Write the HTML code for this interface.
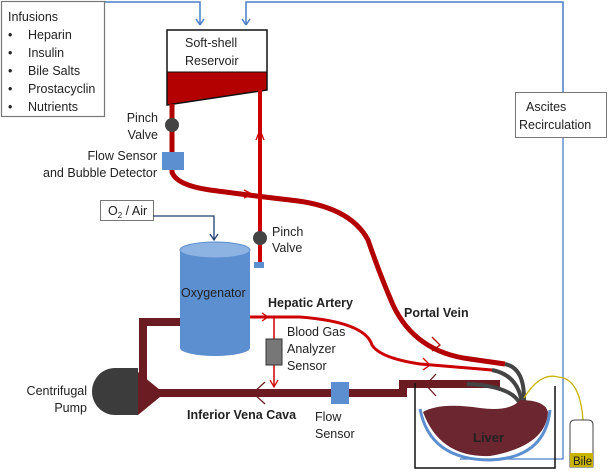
<!DOCTYPE html>
<html><head><meta charset="utf-8"><style>
html,body{margin:0;padding:0;background:#fff;width:609px;height:474px;overflow:hidden}
svg{display:block}
text{font-family:"Liberation Sans",sans-serif;font-size:12.5px;fill:#222}
.b{font-weight:bold}
</style></head><body>
<svg width="609" height="474" viewBox="0 0 609 474" xmlns="http://www.w3.org/2000/svg">
<!-- blue infusion lines -->
<path d="M105,2 H200 V25" fill="none" stroke="#4a7fc6" stroke-width="1.5"/>
<path d="M200,25 l-4,-6 M200,25 l4,-6" stroke="#4a7fc6" stroke-width="1.5" fill="none"/>
<path d="M563,92 V2 H246 V25" fill="none" stroke="#4a7fc6" stroke-width="1.5"/>
<path d="M246,25 l-4,-6 M246,25 l4,-6" stroke="#4a7fc6" stroke-width="1.5" fill="none"/>
<path d="M563,138 V459 H460" fill="none" stroke="#4a7fc6" stroke-width="1.3"/>
<!-- infusions box -->
<rect x="1.5" y="1.5" width="103" height="115" fill="#fff" stroke="#777" stroke-width="1.2"/>
<text x="8" y="21">Infusions</text>
<g><text x="8" y="39">•</text><text x="28" y="39">Heparin</text>
<text x="8" y="57">•</text><text x="28" y="57">Insulin</text>
<text x="8" y="75">•</text><text x="28" y="75">Bile Salts</text>
<text x="8" y="93">•</text><text x="28" y="93">Prostacyclin</text>
<text x="8" y="111">•</text><text x="28" y="111">Nutrients</text></g>
<!-- ascites box -->
<rect x="515.5" y="92.5" width="91" height="45" fill="#fff" stroke="#777"/>
<text x="526" y="111">Ascites</text><text x="519" y="129">Recirculation</text>
<!-- reservoir -->
<path d="M167,72 H267 V90 L167,105 Z" fill="#b30000"/>
<path d="M167,30 H267 V90 L167,105 Z" fill="none" stroke="#111" stroke-width="1.5"/>
<path d="M167,72 H267" stroke="#111" stroke-width="1"/>
<text x="185" y="47">Soft-shell</text><text x="185" y="65">Reservoir</text>
<!-- red tubes -->
<path d="M172,104 V172 Q176,185 210,190 Q255,196 290,200 Q350,206 368,240 Q380,275 393,305 Q415,352 470,359 L505,364" fill="none" stroke="#b30000" stroke-width="5"/>
<path d="M260,90 V265" fill="none" stroke="#cc0000" stroke-width="4"/>
<path d="M256,140 L260,130 L264,140" fill="none" stroke="#cc0000" stroke-width="1.3"/>
<path d="M244,190 L252,194 L244,198" fill="none" stroke="#cc0000" stroke-width="1.3"/>
<path d="M432,337 L440,345 L432,351" fill="none" stroke="#b30000" stroke-width="1.3"/>
<rect x="254" y="262" width="10" height="6" fill="#5b8fd0"/>
<!-- hepatic artery -->
<path d="M250,317 H300 Q365,322 372,345 Q380,358 420,364 L492,370" fill="none" stroke="#cc0000" stroke-width="3"/>
<path d="M262,313 L268,317 L262,321" fill="none" stroke="#cc0000" stroke-width="1.3"/>
<path d="M423,358 L430,365 L423,370" fill="none" stroke="#cc0000" stroke-width="1.3"/>
<path d="M274,317 V386" stroke="#cc0000" stroke-width="1.5" fill="none"/>
<path d="M270,380 L274,387 L278,380" fill="none" stroke="#cc0000" stroke-width="1.3"/>
<rect x="266" y="339" width="16" height="26" fill="#777" stroke="#333"/>
<!-- pinch valves -->
<circle cx="172" cy="125" r="7" fill="#444"/>
<circle cx="260" cy="238" r="7" fill="#444"/>
<!-- flow sensor bubble -->
<rect x="162" y="152" width="22" height="18" fill="#5b8fd0"/>
<!-- O2 box -->
<rect x="100.5" y="200.5" width="53" height="20" fill="#fff" stroke="#777"/>
<text x="108" y="215">O<tspan font-size="8" dy="3">2</tspan><tspan dy="-3"> / Air</tspan></text>
<path d="M153,216 H214 V240" fill="none" stroke="#1f3f70" stroke-width="1.3"/>
<path d="M210,234 L214,240 L218,234" fill="none" stroke="#1f3f70" stroke-width="1.3"/>
<!-- maroon venous tube -->
<path d="M180,322 H143 V390" fill="none" stroke="#6b1c22" stroke-width="8"/>
<path d="M138,372 L160,390 V397 L138,415 Z" fill="#6b1c22"/>
<path d="M158,393 H403 V384 H500" fill="none" stroke="#6b1c22" stroke-width="8"/>
<path d="M265,382 L253,393 L265,404" fill="none" stroke="#6b1c22" stroke-width="1.3"/>
<path d="M436,374 L426,385 L436,396" fill="none" stroke="#6b1c22" stroke-width="1.3"/>
<!-- oxygenator -->
<path d="M180,250 V348 A35,8 0 0 0 250,348 V250 Z" fill="#5b8fd0"/>
<ellipse cx="215" cy="250" rx="35" ry="8" fill="#8db3e2" stroke="#5b8fd0"/>
<text x="181" y="297">Oxygenator</text>
<!-- pump -->
<path d="M138,368 H115 A23,23.5 0 0 0 115,415 H138 Z" fill="#3c3c3c"/>
<!-- flow sensor ivc -->
<rect x="331" y="382" width="18" height="22" fill="#5b8fd0"/>
<!-- gray tubes -->
<path d="M505,364 Q525,368 524,402" fill="none" stroke="#444" stroke-width="4"/>
<path d="M492,370 Q518,375 522,403" fill="none" stroke="#444" stroke-width="4"/>
<path d="M467,384 Q512,386 520,404" fill="none" stroke="#444" stroke-width="4"/>
<!-- bowl -->
<path d="M415,383 V468 H555 V386" fill="none" stroke="#111" stroke-width="1.5"/>
<path d="M420,409 Q430,460 490,460 Q545,458 550,410" fill="none" stroke="#5b8fd0" stroke-width="3"/>
<path d="M423,412 Q440,402 480,408 Q510,412 520,400 Q545,400 548,412 Q546,446 490,456 Q440,458 423,412 Z" fill="#6b2630"/>
<text x="473" y="442" class="b" style="font-size:13px">Liver</text>
<!-- bile -->
<path d="M524,398 Q540,372 558,377 Q580,378 583,420" fill="none" stroke="#c8b400" stroke-width="1.3"/>
<path d="M570,467 V425 Q570,420 575,420 H588 Q593,420 593,425 V467 Z" fill="#fff" stroke="#444"/>
<rect x="570" y="453" width="23" height="14" fill="#c8b400"/>
<text x="573" y="465" style="font-size:11.5px">Bile</text>
<!-- labels -->
<text x="158" y="122" text-anchor="end">Pinch</text><text x="158" y="139" text-anchor="end">Valve</text>
<text x="157" y="160" text-anchor="end">Flow Sensor</text><text x="157" y="177" text-anchor="end">and Bubble Detector</text>
<text x="272" y="236">Pinch</text><text x="272" y="252">Valve</text>
<text x="268" y="307" class="b">Hepatic Artery</text>
<text x="287" y="336">Blood Gas</text><text x="287" y="353">Analyzer</text><text x="287" y="370">Sensor</text>
<text x="404" y="317" class="b">Portal Vein</text>
<text x="87" y="395" text-anchor="end">Centrifugal</text><text x="87" y="412" text-anchor="end">Pump</text>
<text x="187" y="419" class="b">Inferior Vena Cava</text>
<text x="315" y="421">Flow</text><text x="315" y="438">Sensor</text>
</svg>
</body></html>
